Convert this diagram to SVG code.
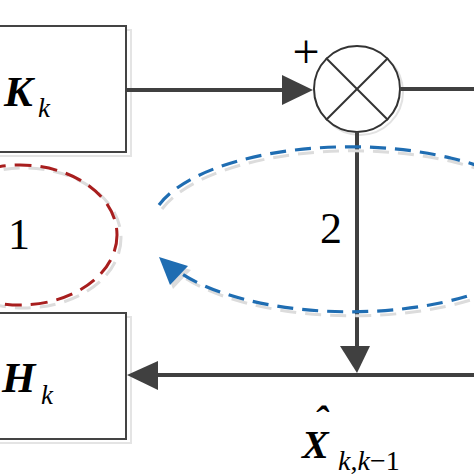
<svg xmlns="http://www.w3.org/2000/svg" width="474" height="474" viewBox="0 0 474 474">
<style>
.box{fill:#fff;stroke:#444;stroke-width:2}
.shadow{fill:none;stroke:#e4e4e4;stroke-width:2}
.wire{fill:none;stroke:#404040;stroke-width:4}
.head{fill:#404040}
text{font-family:'Liberation Serif','Times New Roman',serif;fill:#000}
.bi{font-weight:bold;font-style:italic}
.it{font-style:italic}
.red{fill:none;stroke:#a81e1e;stroke-width:3;stroke-dasharray:17 9}
.blue{fill:none;stroke:#1f6db2;stroke-width:3.2;stroke-dasharray:16 9}
.gdash{fill:none;stroke:#dcdcdc;stroke-width:3;stroke-dasharray:16 9}
</style>
<rect width="474" height="474" fill="#fff"/>

<g id="node-K">
<rect class="shadow" x="-10" y="30" width="141" height="126"/>
<rect class="box" x="-10" y="26" width="136" height="126"/>
<text class="bi" x="4" y="106" font-size="43">K</text>
<text class="it" x="38" y="117" font-size="27">k</text>
</g>

<g id="node-H">
<rect class="shadow" x="-10" y="317" width="141" height="126"/>
<rect class="box" x="-10" y="313" width="136" height="126"/>
<text class="bi" x="2" y="392" font-size="43">H</text>
<text class="it" x="41" y="404" font-size="27">k</text>
</g>

<g id="node-sum">
<circle cx="360" cy="92" r="43" fill="none" stroke="#e2e2e2" stroke-width="2"/>
<circle cx="357" cy="89" r="43" fill="#fff" stroke="#333" stroke-width="2"/>
<line x1="326" y1="58" x2="388" y2="120" stroke="#333" stroke-width="2"/>
<line x1="388" y1="58" x2="326" y2="120" stroke="#333" stroke-width="2"/>
<text x="306" y="68" font-size="48" text-anchor="middle">+</text>
</g>

<g id="connectors">
<line class="wire" x1="126" y1="90" x2="286" y2="90"/>
<polygon class="head" points="313,90 282,75 282,105"/>
<line class="wire" x1="400" y1="89" x2="474" y2="89"/>
<line class="wire" x1="357" y1="132" x2="357" y2="350"/>
<polygon class="head" points="357,373 340,346 370,346"/>
<line class="wire" x1="474" y1="375" x2="154" y2="375"/>
<polygon class="head" points="127,375 158,361 158,390"/>
</g>

<g id="loop-1">
<ellipse class="gdash" cx="24" cy="238" rx="97" ry="70"/>
<ellipse class="red" cx="20" cy="235" rx="97" ry="70"/>
<text x="19" y="249" font-size="44" text-anchor="middle">1</text>
</g>

<g id="loop-2">
<path class="gdash" transform="translate(3,4)" d="M159,205 A200,82.5 0 1 1 182,274"/>
<polygon fill="#dcdcdc" transform="translate(3,4)" points="159,257 188,266 170,285"/>
<path class="blue" d="M159,205 A200,82.5 0 1 1 182,274"/>
<polygon fill="#1f6db2" points="159,257 188,266 170,285"/>
<text x="331" y="243" font-size="44" text-anchor="middle">2</text>
</g>

<g id="label-X">
<text class="bi" x="302" y="458" font-size="40">X</text>
<text class="bi" x="321" y="434" font-size="40" text-anchor="middle">ˆ</text>
<text x="338" y="470" font-size="28"><tspan font-style="italic">k</tspan>,<tspan font-style="italic">k</tspan>−1</text>
</g>
</svg>
